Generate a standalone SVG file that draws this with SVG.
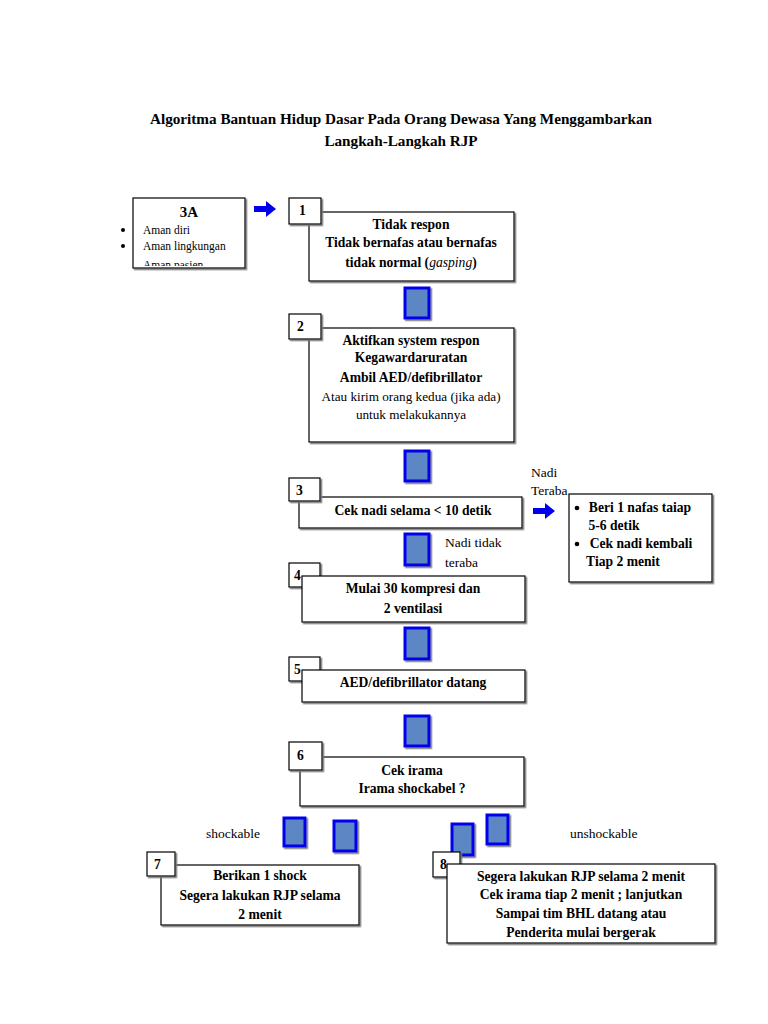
<svg xmlns="http://www.w3.org/2000/svg" width="768" height="1024" viewBox="0 0 768 1024">
<defs>
<style>
text{font-family:"Liberation Serif","Times New Roman",serif;fill:#000}
.t{font-size:15.2px;font-weight:bold;text-anchor:middle}
.b{font-size:13.6px;font-weight:bold;text-anchor:middle}
.n{font-size:13.2px;text-anchor:middle}
.l{font-size:13.5px}
.s{font-size:11.5px}
.bx{fill:#fff;stroke:#000;stroke-width:1.2;filter:url(#sh)}
.blk{fill:#5b86c4;stroke:#0000ee;stroke-width:3;filter:url(#sh)}
.ar{fill:#0000ee}
</style>
<filter id="sh" x="-10%" y="-10%" width="130%" height="130%"><feDropShadow dx="1.5" dy="1.5" stdDeviation="0.6" flood-color="#777"/></filter>
<clipPath id="c3a"><rect x="110" y="198" width="140" height="68"/></clipPath>
</defs>
<rect width="768" height="1024" fill="#fff"/>
<text class="t" x="401" y="124">Algoritma Bantuan Hidup Dasar Pada Orang Dewasa Yang Menggambarkan</text>
<text class="t" x="401" y="146">Langkah-Langkah RJP</text>

<g id="connectors">
<path class="ar" d="M254 206h12v-5l10 8-10 8v-5h-12z"/>
<path class="ar" d="M533 508h12v-5l10 8-10 8v-5h-12z"/>
<rect class="blk" x="405" y="288" width="24" height="30"/>
<rect class="blk" x="405" y="451" width="24" height="30"/>
<rect class="blk" x="405" y="534" width="24" height="31"/>
<rect class="blk" x="405" y="628" width="24" height="31"/>
<rect class="blk" x="405" y="716" width="24" height="30"/>
<rect class="blk" x="284" y="818" width="21" height="28"/>
<rect class="blk" x="334" y="821" width="22" height="30"/>
<rect class="blk" x="452" y="824" width="21" height="31"/>
<rect class="blk" x="487" y="815" width="21" height="29"/>
<text class="l" x="531" y="477">Nadi</text>
<text class="l" x="531" y="495">Teraba</text>
<text class="l" x="445" y="547">Nadi tidak</text>
<text class="l" x="445" y="567">teraba</text>
<text class="l" x="206" y="838">shockable</text>
<text class="l" x="570" y="838">unshockable</text>
</g>

<g id="n3a">
<rect class="bx" x="133" y="198" width="112" height="70"/>
<text class="b" x="189" y="217" style="font-size:15px">3A</text>
<g clip-path="url(#c3a)">
<circle cx="123" cy="230" r="2"/><text class="s" x="143" y="234">Aman diri</text>
<circle cx="123" cy="246" r="2"/><text class="s" x="143" y="250">Aman lingkungan</text>
<text class="s" x="143" y="269">Aman pasien</text>
</g>
</g>

<g id="n1">
<rect class="bx" x="309" y="212" width="205" height="69"/>
<rect class="bx" x="289" y="198" width="32" height="26"/>
<text class="b" x="299" y="215" style="text-anchor:start">1</text>
<text class="b" x="411" y="229">Tidak respon</text>
<text class="b" x="411" y="247">Tidak bernafas atau bernafas</text>
<text class="b" x="411" y="267">tidak normal (<tspan font-style="italic" font-weight="normal">gasping</tspan>)</text>
</g>

<g id="n2">
<rect class="bx" x="309" y="328" width="205" height="114"/>
<rect class="bx" x="289" y="314" width="32" height="25"/>
<text class="b" x="297" y="331" style="text-anchor:start">2</text>
<text class="b" x="411" y="345">Aktifkan system respon</text>
<text class="b" x="411" y="362">Kegawardaruratan</text>
<text class="b" x="411" y="382">Ambil AED/defibrillator</text>
<text class="n" x="411" y="401">Atau kirim orang kedua (jika ada)</text>
<text class="n" x="411" y="419">untuk melakukannya</text>
</g>

<g id="n3">
<rect class="bx" x="299" y="497" width="223" height="31"/>
<rect class="bx" x="289" y="478" width="31" height="23"/>
<text class="b" x="296" y="495" style="text-anchor:start">3</text>
<text class="b" x="413" y="515">Cek nadi selama &lt; 10 detik</text>
</g>

<g id="nteraba">
<rect class="bx" x="569" y="494" width="143" height="88"/>
<circle cx="577" cy="508" r="2.3"/>
<text class="b" x="640" y="512">Beri 1 nafas taiap</text>
<text class="b" x="614" y="530">5-6 detik</text>
<circle cx="577" cy="544" r="2.3"/>
<text class="b" x="641" y="548">Cek nadi kembali</text>
<text class="b" x="623" y="566">Tiap 2 menit</text>
</g>

<g id="n4">
<rect class="bx" x="289" y="563" width="31" height="24"/>
<text class="b" x="294" y="580" style="text-anchor:start">4</text>
<rect class="bx" x="302" y="576" width="223" height="46"/>
<text class="b" x="413" y="593">Mulai 30 kompresi dan</text>
<text class="b" x="413" y="613">2 ventilasi</text>
</g>

<g id="n5">
<rect class="bx" x="289" y="657" width="31" height="24"/>
<text class="b" x="294" y="674" style="text-anchor:start">5</text>
<rect class="bx" x="302" y="670" width="223" height="32"/>
<text class="b" x="413" y="687">AED/defibrillator datang</text>
</g>

<g id="n6">
<rect class="bx" x="300" y="757" width="224" height="49"/>
<rect class="bx" x="289" y="742" width="33" height="28"/>
<text class="b" x="297" y="760" style="text-anchor:start">6</text>
<text class="b" x="412" y="775">Cek irama</text>
<text class="b" x="412" y="793">Irama shockabel ?</text>
</g>

<g id="n7">
<rect class="bx" x="161" y="865" width="198" height="60"/>
<rect class="bx" x="147" y="852" width="28" height="24"/>
<text class="b" x="154" y="869" style="text-anchor:start">7</text>
<text class="b" x="260" y="880">Berikan 1 shock</text>
<text class="b" x="260" y="900">Segera lakukan RJP selama</text>
<text class="b" x="260" y="919">2 menit</text>
</g>

<g id="n8">
<rect class="bx" x="433" y="852" width="27" height="25"/>
<text class="b" x="440" y="869" style="text-anchor:start">8</text>
<rect class="bx" x="447" y="864" width="268" height="79"/>
<text class="b" x="581" y="881">Segera lakukan RJP selama 2 menit</text>
<text class="b" x="581" y="899">Cek irama tiap 2 menit ; lanjutkan</text>
<text class="b" x="581" y="918">Sampai tim BHL datang atau</text>
<text class="b" x="581" y="937">Penderita mulai bergerak</text>
</g>
</svg>
